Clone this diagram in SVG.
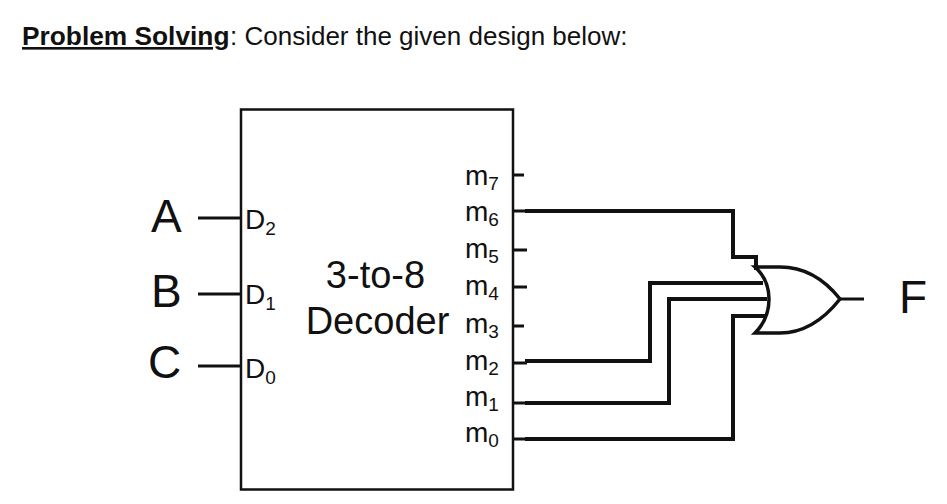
<svg xmlns="http://www.w3.org/2000/svg" width="947" height="504" viewBox="0 0 947 504">
<style>
text{font-family:"Liberation Sans",Arial,sans-serif;fill:#111}
.pin{font-size:28px}
.sub{font-size:19px}
.big{font-size:46px}
.mid{font-size:38px}
.w{fill:none;stroke:#111;stroke-linejoin:miter}
.t{stroke-width:3}
.h{stroke-width:4}
</style>
<rect width="947" height="504" fill="#fff"/>
<g id="title"><text x="22" y="45" font-size="26.300" font-weight="bold" text-decoration="underline">Problem Solving</text><text x="230" y="45" font-size="26">: Consider the given design below:</text></g>
<g id="connectors">
<path class="w t" d="M198 218H241M198 294H241M198 366H241"/>
<path class="w t" d="M513 175H524M513 211H527M513 250H527M513 287H527M513 326H524M513 363H527M513 403H527M513 439H527"/>
<path class="w h" d="M525 211H733V257H756V270"/>
<path class="w h" d="M525 361H650V283H763"/>
<path class="w h" d="M525 403H669V299H767"/>
<path class="w h" d="M525 439H733V316H765"/>
<path class="w t" d="M840 299H864"/>
</g>
<g id="decoder">
<rect x="241" y="109.500" width="272" height="380" fill="none" stroke="#111" stroke-width="2.500"/>
<text class="mid" x="375.500" y="288" text-anchor="middle">3-to-8</text>
<text class="mid" x="377.500" y="334" text-anchor="middle">Decoder</text>
<text class="pin" x="245" y="229">D<tspan class="sub" dy="6">2</tspan></text>
<text class="pin" x="245" y="304">D<tspan class="sub" dy="6">1</tspan></text>
<text class="pin" x="245" y="378">D<tspan class="sub" dy="6">0</tspan></text>
<text class="pin" x="465" y="185">m<tspan class="sub" dy="5">7</tspan></text>
<text class="pin" x="465" y="221">m<tspan class="sub" dy="5">6</tspan></text>
<text class="pin" x="465" y="258">m<tspan class="sub" dy="5">5</tspan></text>
<text class="pin" x="465" y="295">m<tspan class="sub" dy="5">4</tspan></text>
<text class="pin" x="465" y="333">m<tspan class="sub" dy="5">3</tspan></text>
<text class="pin" x="465" y="370">m<tspan class="sub" dy="5">2</tspan></text>
<text class="pin" x="465" y="406">m<tspan class="sub" dy="5">1</tspan></text>
<text class="pin" x="465" y="442">m<tspan class="sub" dy="5">0</tspan></text>
</g>
<g id="or-gate"><path d="M755 267H780C805 267 825 280 840 299C825 318 805 333 780 333H755C766 322 769 310 769 299C769 288 766 277 755 267Z" fill="#fff" stroke="#111" stroke-width="3.500"/></g>
<g id="input-a"><text class="big" x="151" y="232">A</text></g>
<g id="input-b"><text class="big" x="151" y="307">B</text></g>
<g id="input-c"><text class="big" x="148" y="378">C</text></g>
<g id="output-f"><text class="big" x="899" y="313">F</text></g>
</svg>
